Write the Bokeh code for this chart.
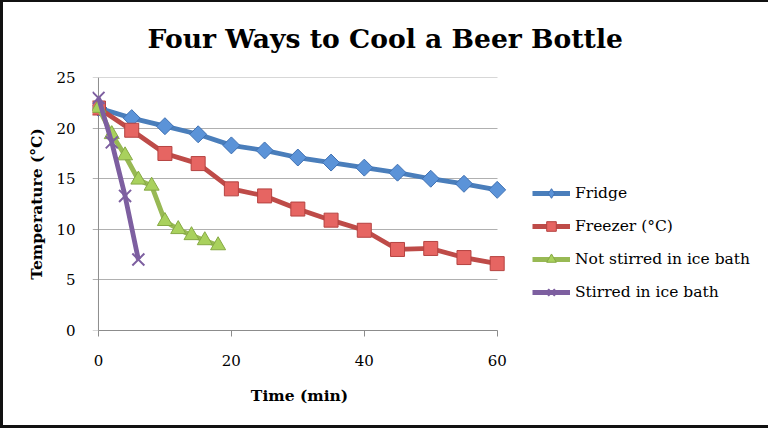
import math
from bokeh.plotting import figure
from bokeh.models import Range1d, Legend, LegendItem, Span, FixedTicker, Grid
from bokeh.embed import file_html
from bokeh.resources import INLINE

# ---------------- data ----------------
title_text = "Four Ways to Cool a Beer Bottle"
x_label = "Time (min)"
y_label = "Temperature (°C)"
x_ticks = [0, 20, 40, 60]
y_ticks = [0, 5, 10, 15, 20, 25]

fridge_name = "Fridge"
fridge_time = [0, 5, 10, 15, 20, 25, 30, 35, 40, 45, 50, 55, 60]
fridge_temp = [22.0, 21.0, 20.2, 19.4, 18.3, 17.8, 17.1, 16.6, 16.1, 15.6, 15.0, 14.5, 13.9]

freezer_name = "Freezer (°C)"
freezer_time = [0, 5, 10, 15, 20, 25, 30, 35, 40, 45, 50, 55, 60]
freezer_temp = [22.0, 19.8, 17.5, 16.5, 14.0, 13.3, 12.0, 10.9, 9.9, 8.0, 8.1, 7.2, 6.6]

not_stirred_name = "Not stirred in ice bath"
not_stirred_time = [0, 2, 4, 6, 8, 10, 12, 14, 16, 18]
not_stirred_temp = [22.0, 19.4, 17.3, 14.9, 14.3, 10.8, 10.0, 9.4, 8.9, 8.4]

stirred_name = "Stirred in ice bath"
stirred_time = [0, 2, 4, 6]
stirred_temp = [23.0, 18.6, 13.3, 7.0]

# ---------------- styling ----------------
SERIF = "DejaVu Serif"
AXIS_COLOR = "#8c8c8c"
GRID_COLOR = "#b0b0b0"

X_START, X_END = -0.9, 61.4
Y_START, Y_END = -0.02, 25.02

p = figure(width=768, height=428, frame_width=414, frame_height=253,
           output_backend="svg", toolbar_location=None,
           x_range=Range1d(X_START, X_END), y_range=Range1d(Y_START, Y_END),
           min_border_left=92, min_border_right=262,
           min_border_top=77, min_border_bottom=98)
p.outline_line_color = None
p.background_fill_color = "white"
p.border_fill_alpha = 0
p.styles = {"background-color": "white",
            "box-shadow": "inset 3px 2px 0 0 #111, inset -4px -3px 0 0 #111"}

# ---------------- title ----------------
p.title.text = title_text
p.title.align = "left"
p.title.offset = 55
p.title.vertical_align = "top"
p.title.standoff = 43
p.title.text_font = SERIF
p.title.text_font_style = "bold"
p.title.text_font_size = "26.6px"
p.title.text_color = "black"

# x axis
xa = p.xaxis[0]
xa.ticker = FixedTicker(ticks=x_ticks)
xa.bounds = (x_ticks[0], x_ticks[-1])
xa.axis_line_color = AXIS_COLOR
xa.major_tick_line_color = AXIS_COLOR
xa.major_tick_out = 6
xa.major_tick_in = 0
xa.minor_tick_line_color = None
xa.major_label_standoff = 18
xa.major_label_text_font = SERIF
xa.major_label_text_font_size = "15px"
xa.major_label_text_color = "black"
xa.axis_label = x_label
xa.axis_label_text_font = SERIF
xa.axis_label_text_font_style = "bold"
xa.axis_label_text_font_size = "15.5px"
xa.axis_label_text_color = "black"
xa.axis_label_standoff = 17

# y axis (line drawn as span at x=0, ticks provided by the extended grid lines)
ya = p.yaxis[0]
ya.ticker = FixedTicker(ticks=y_ticks)
ya.axis_line_color = None
ya.major_tick_line_color = None
ya.minor_tick_line_color = None
ya.major_tick_out = 0
ya.major_tick_in = 0
ya.major_label_standoff = 17
ya.major_label_text_font = SERIF
ya.major_label_text_font_size = "15px"
ya.major_label_text_color = "black"
ya.axis_label = y_label
ya.axis_label_text_font = SERIF
ya.axis_label_text_font_style = "bold"
ya.axis_label_text_font_size = "15.5px"
ya.axis_label_text_color = "black"
ya.axis_label_standoff = 7

p.xgrid.visible = False
p.ygrid.ticker = FixedTicker(ticks=y_ticks)
p.ygrid.grid_line_color = GRID_COLOR
p.ygrid.grid_line_width = 1
if "cross_bounds" in Grid.properties():
    p.ygrid.cross_bounds = (X_START, x_ticks[-1])

p.add_layout(Span(location=0, dimension="height", line_color=AXIS_COLOR,
                  line_width=1, level="underlay"))

# ---------------- series ----------------
LW = 4.8

l1 = p.line(fridge_time, fridge_temp, line_color="#4A7EBB", line_width=LW)
p.scatter(fridge_time, fridge_temp, marker="square", angle=math.pi / 4, size=12,
          fill_color="#5B93D8", line_color="#3F70B2", line_width=1)
proxy1 = p.scatter(fridge_time, fridge_temp, marker="diamond", size=0,
                   fill_color="#5B93D8", line_color="#3F70B2", line_width=1)

l2 = p.line(freezer_time, freezer_temp, line_color="#BE4B48", line_width=LW)
m2 = p.scatter(freezer_time, freezer_temp, marker="square", size=14,
               fill_color="#E66562", line_color="#B54341", line_width=1)

l3 = p.line(not_stirred_time, not_stirred_temp, line_color="#98B954", line_width=LW)
m3 = p.scatter(not_stirred_time, not_stirred_temp, marker="triangle", size=15,
               fill_color="#A9D15D", line_color="#86A944", line_width=1)

l4 = p.line(stirred_time, stirred_temp, line_color="#7D5FA0", line_width=LW)
m4 = p.scatter(stirred_time, stirred_temp, marker="x", size=17,
               line_color="#7D5FA0", line_width=2)

legend = Legend(items=[
    LegendItem(label=fridge_name, renderers=[l1, proxy1]),
    LegendItem(label=freezer_name, renderers=[l2, m2]),
    LegendItem(label=not_stirred_name, renderers=[l3, m3]),
    LegendItem(label=stirred_name, renderers=[l4, m4]),
], location="bottom_left", glyph_width=38, glyph_height=24, label_height=24,
    spacing=9, padding=0, margin=26, label_standoff=5,
    border_line_color=None, background_fill_alpha=0,
    label_text_font=SERIF, label_text_font_size="15.5px", label_text_color="black")
p.add_layout(legend, "right")

open("out.html", "w").write(file_html(p, INLINE))
